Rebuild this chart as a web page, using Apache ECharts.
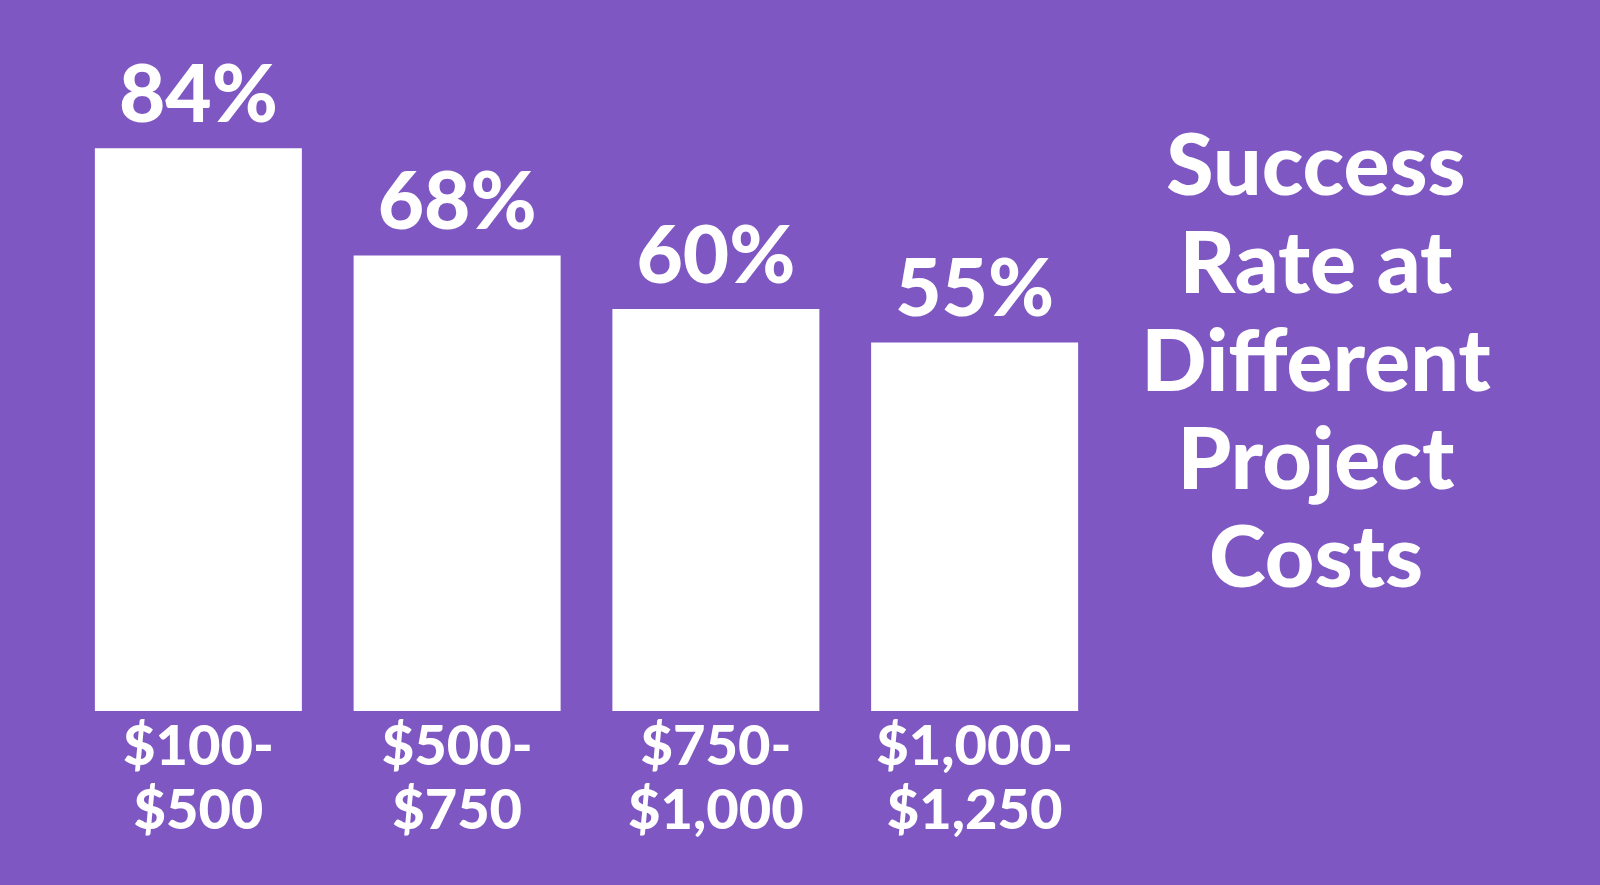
<!DOCTYPE html>
<html><head><meta charset="utf-8">
<script src="https://cdn.jsdelivr.net/npm/echarts@6/dist/echarts.min.js"></script>
<style>html,body{margin:0;padding:0;background:#7E57C2;}#c{width:1600px;height:885px;}</style>
</head><body><div id="c"></div>
<script>
const categories = ['$100-\n$500', '$500-\n$750', '$750-\n$1,000', '$1,000-\n$1,250'];
const successRates = [84, 68, 60, 55];
const titleLines = ['Success', 'Rate at', 'Different', 'Project', 'Costs'];

const chart = echarts.init(document.getElementById('c'));
chart.setOption({
  backgroundColor: '#7E57C2',
  animation: false,
  grid: { left: 69, right: 496, top: 41, bottom: 174 },
  xAxis: {
    type: 'category', data: categories,
    axisLine: { show: false }, axisTick: { show: false },
    axisLabel: { color: '#fff', fontFamily: 'Lato', fontWeight: 900, fontSize: 56, lineHeight: 64, margin: 4 }
  },
  yAxis: { type: 'value', min: 0, max: 100, show: false, splitLine: { show: false } },
  series: [{
    type: 'bar', data: successRates, barCategoryGap: '20%',
    itemStyle: { color: '#ffffff' },
    label: { show: true, position: 'top', distance: 12, formatter: '{c}%', color: '#fff', fontFamily: 'Lato', fontWeight: 900, fontSize: 80 }
  }],
  graphic: [{
    type: 'text', x: 1316, y: 118,
    style: { text: titleLines.join('\n'), fill: '#fff', font: '900 86px Lato', lineHeight: 98, textAlign: 'center', align: 'center' }
  }]
});
</script></body></html>
